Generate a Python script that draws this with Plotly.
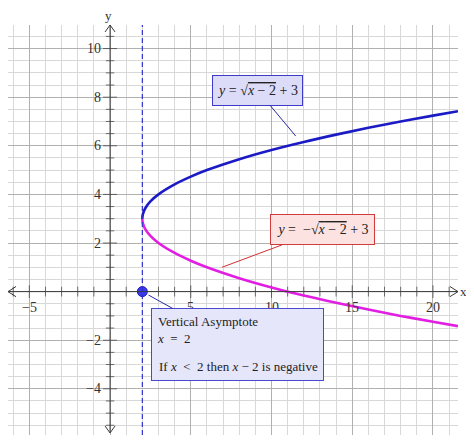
import plotly.graph_objects as go

curve_x = [2, 2.01, 2.05, 2.2, 2.5, 3, 4, 5, 6, 8, 10, 12, 14, 16, 18, 20, 21.55]
upper_y = [3, 3.1, 3.22, 3.45, 3.71, 4, 4.41, 4.73, 5, 5.45, 5.83, 6.16, 6.46, 6.74, 7, 7.24, 7.42]
lower_y = [3, 2.9, 2.78, 2.55, 2.29, 2, 1.59, 1.27, 1, 0.55, 0.17, -0.16, -0.46, -0.74, -1, -1.24, -1.42]

asymptote_x = 2
point_x = [2]
point_y = [0]

x_tick_vals = [-5, 5, 10, 15, 20]
x_tick_text = ["\u22125", "5", "10", "15", "20"]
y_tick_vals = [10, 8, 6, 4, 2, -2, -4]
y_tick_text = ["10", "8", "6", "4", "2", "\u22122", "\u22124"]

x_range = [-6.32, 21.55]
y_range = [-5.9, 10.97]

AXIS = "#3a3a3a"
BLUE = "#1b1bc6"
MAGENTA = "#e21ee2"
SERIF = "Liberation Serif"

fig = go.Figure()

# small tick marks on the axes
xt_minor = [v for v in range(-6, 22) if v != 0]
fig.add_trace(go.Scatter(x=xt_minor, y=[0] * len(xt_minor), mode="markers",
                         marker=dict(symbol="line-ns", size=[9 if v % 5 == 0 else 7 for v in xt_minor],
                                     line=dict(color=AXIS, width=1)),
                         hoverinfo="skip", showlegend=False))
yt_minor = [v / 2 for v in range(-11, 22) if v != 0]
fig.add_trace(go.Scatter(x=[0] * len(yt_minor), y=yt_minor, mode="markers",
                         marker=dict(symbol="line-ew", size=[10 if v % 2 == 0 else 6 for v in yt_minor],
                                     line=dict(color=AXIS, width=1)),
                         hoverinfo="skip", showlegend=False))

fig.add_trace(go.Scatter(x=curve_x, y=lower_y, mode="lines", line=dict(color=MAGENTA, width=2.6, shape="spline"),
                         showlegend=False))
fig.add_trace(go.Scatter(x=curve_x, y=upper_y, mode="lines", line=dict(color=BLUE, width=2.6, shape="spline"),
                         showlegend=False))
fig.add_trace(go.Scatter(x=point_x, y=point_y, mode="markers",
                         marker=dict(size=10, color="#3a3af0", line=dict(color="#2020b0", width=1)),
                         showlegend=False, cliponaxis=False))

# dashed asymptote
fig.add_shape(type="line", xref="x", yref="paper", x0=asymptote_x, x1=asymptote_x, y0=0, y1=1,
              line=dict(color="#3030d0", width=1.2, dash="5px,3px"))

# axes with open arrowheads
fig.add_shape(type="line", xref="paper", yref="y", x0=0, x1=1.0, y0=0, y1=0, line=dict(color=AXIS, width=1))
fig.add_shape(type="path", xref="paper", yref="y", path="M 0.982,0.21 L 1.0,0 L 0.982,-0.21",
              line=dict(color=AXIS, width=1))
fig.add_shape(type="path", xref="paper", yref="y", path="M 0.0178,0.21 L 0,0 L 0.0178,-0.21",
              line=dict(color=AXIS, width=1))
fig.add_shape(type="line", xref="x", yref="paper", x0=0, x1=0, y0=0.005, y1=1.0, line=dict(color=AXIS, width=1))
fig.add_shape(type="path", xref="x", yref="paper", path="M -0.31,0.983 L 0,1.0 L 0.31,0.983",
              line=dict(color=AXIS, width=1))
fig.add_shape(type="path", xref="x", yref="paper", path="M -0.31,0.022 L 0,0.005 L 0.31,0.022",
              line=dict(color=AXIS, width=1))

tick_font = dict(family=SERIF, size=14, color="#333333")
label_font = dict(family=SERIF, size=13, color="#333333")
for v, t in zip(x_tick_vals, x_tick_text):
    fig.add_annotation(x=v, y=0, text=t, showarrow=False, yshift=-16, font=tick_font)
for v, t in zip(y_tick_vals, y_tick_text):
    fig.add_annotation(x=0, y=v, text=t, showarrow=False, xanchor="right", xshift=-7, font=tick_font)
fig.add_annotation(xref="paper", yref="y", x=1.0133, y=0, text="x", showarrow=False,
                   xanchor="center", yanchor="middle", font=label_font)
fig.add_annotation(xref="x", yref="paper", x=-0.1, y=1.0235, text="y", showarrow=False,
                   xanchor="center", yanchor="middle", font=label_font)

box_font = dict(family=SERIF, size=14, color="#222222")
note_font = dict(family=SERIF, size=13, color="#222222")
ol = "<span style='text-decoration:overline'>"
fig.add_annotation(x=11.5, y=6.4, ax=-38, ay=-45.5, showarrow=True, arrowhead=0, arrowwidth=1,
                   arrowcolor="#2a2aa8", standoff=0,
                   text="<i>y</i> = \u221a" + ol + "<i>x</i> \u2212 2</span> + 3",
                   bgcolor="#dcdcf8", bordercolor="#3c3cc8", borderwidth=1, borderpad=4,
                   width=81, height=21, font=box_font)
fig.add_annotation(x=6.93, y=1.0, ax=100.5, ay=-37.5, showarrow=True, arrowhead=0, arrowwidth=1,
                   arrowcolor="#d03030", standoff=0,
                   text="<i>y</i> = \u00a0\u2212\u221a" + ol + "<i>x</i> \u2212 2</span> + 3",
                   bgcolor="#fde2e2", bordercolor="#d03c3c", borderwidth=1, borderpad=4,
                   width=95, height=21, font=box_font)
fig.add_annotation(x=2, y=0, ax=95.2, ay=52.9, showarrow=True, arrowhead=0, arrowwidth=1,
                   arrowcolor="#2a2aa8", standoff=7,
                   text="Vertical Asymptote<br><i>x</i> \u00a0=\u00a0 2",
                   align="left", valign="top",
                   bgcolor="#e6e6fa", bordercolor="#4848d0", borderwidth=1, borderpad=5,
                   width=161, height=61, font=note_font)
fig.add_annotation(x=2, y=0, xanchor="left", yanchor="middle", xshift=14.7, yshift=-75,
                   showarrow=False, font=note_font,
                   text="If <i>x</i> \u00a0&lt;\u00a0 2 then <i>x</i> \u2212 2 is negative")

fig.update_layout(
    width=466, height=433,
    margin=dict(l=0, r=16, t=17, b=6),
    plot_bgcolor="white", paper_bgcolor="white",
    xaxis=dict(range=x_range, dtick=5, tick0=0, showgrid=True, gridcolor="#b0b0b0", gridwidth=1,
               minor=dict(dtick=1, showgrid=True, gridcolor="#d8d8d8", gridwidth=1),
               zeroline=False, showticklabels=False, ticks="", showline=False, fixedrange=True),
    yaxis=dict(range=y_range, dtick=2, tick0=0, showgrid=True, gridcolor="#b0b0b0", gridwidth=1,
               minor=dict(dtick=0.5, showgrid=True, gridcolor="#d8d8d8", gridwidth=1),
               zeroline=False, showticklabels=False, ticks="", showline=False, fixedrange=True),
)

fig.write_html("out.html")
